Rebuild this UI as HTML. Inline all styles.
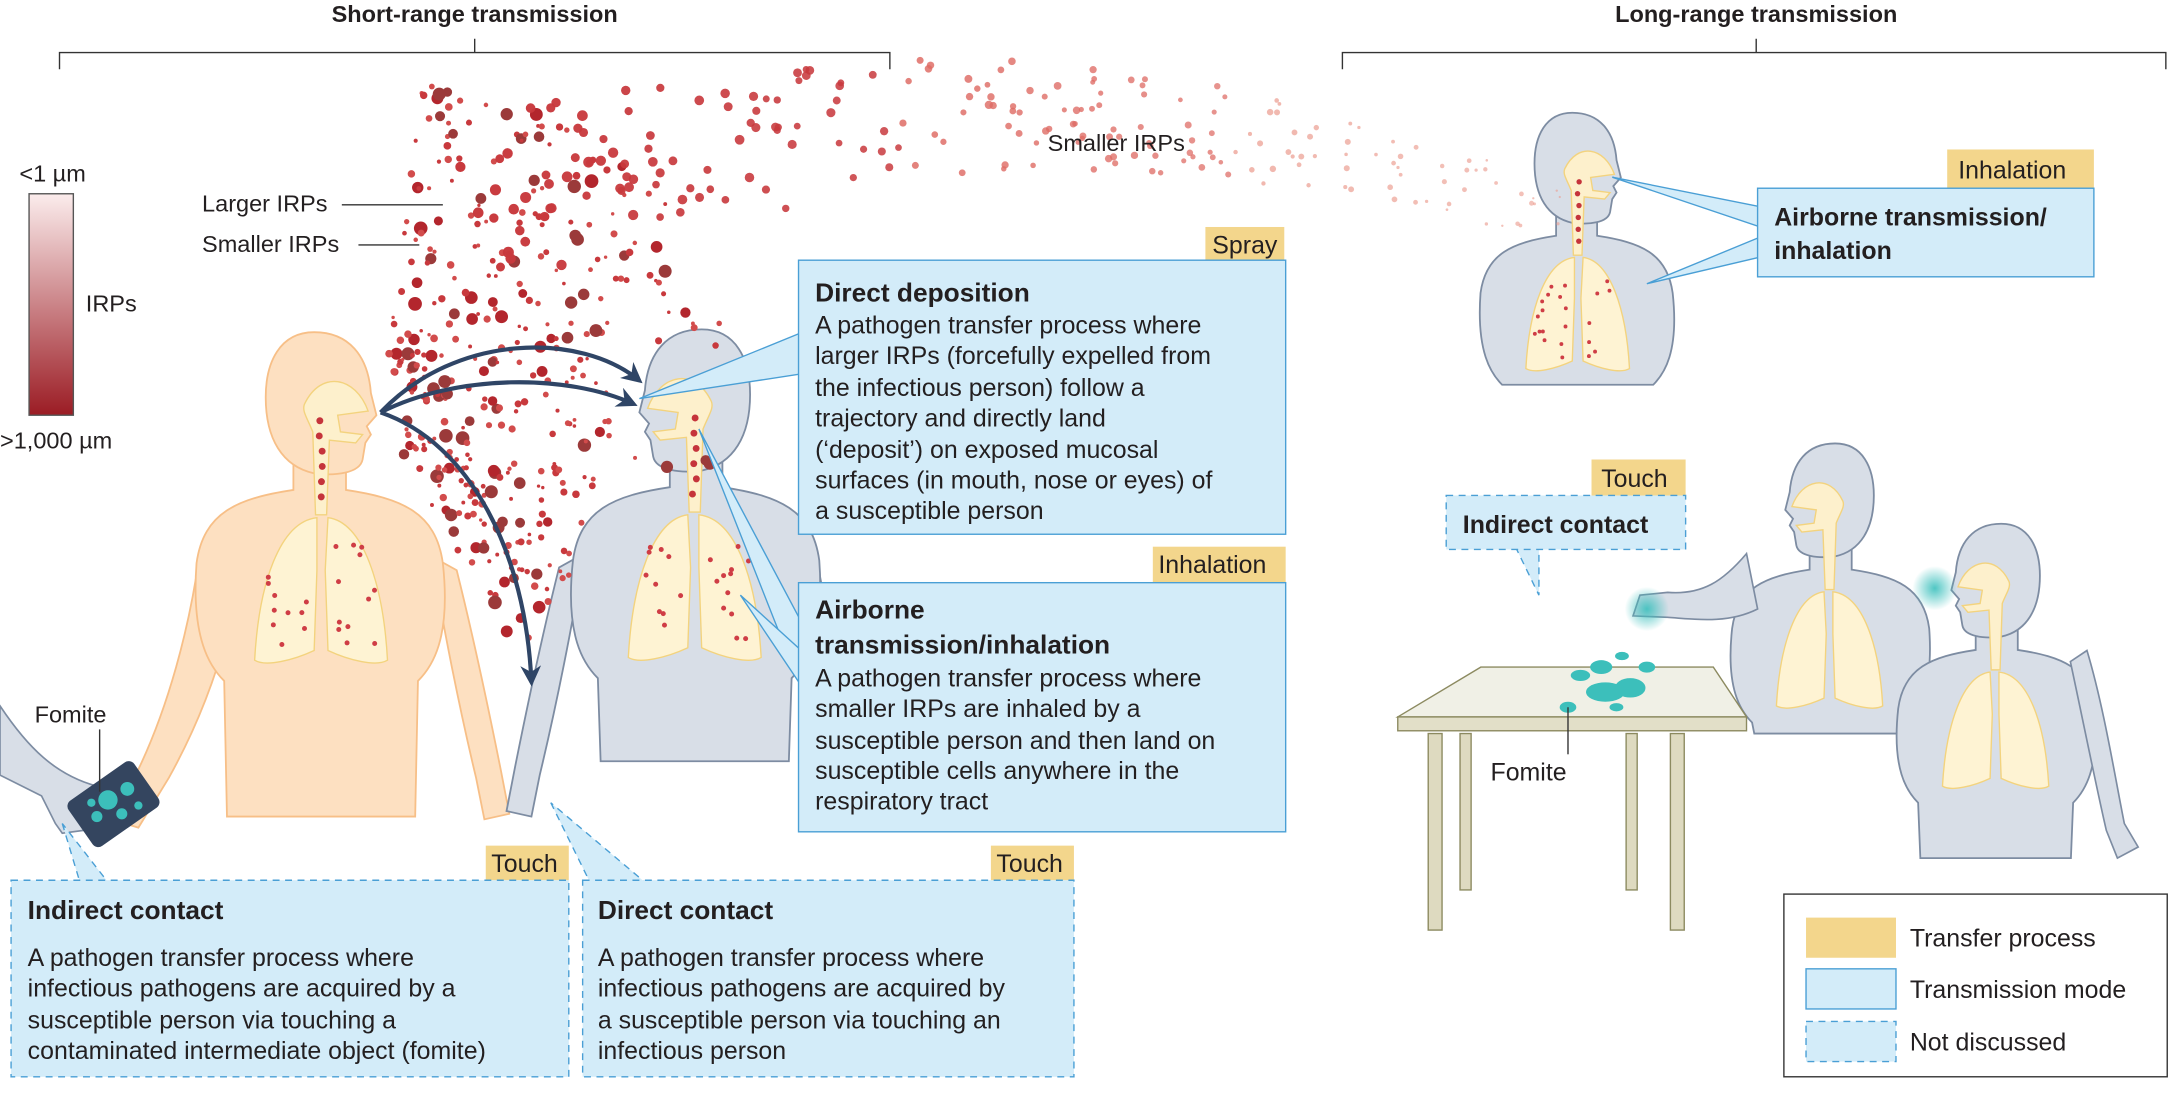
<!DOCTYPE html>
<html><head><meta charset="utf-8"><style>
html,body{margin:0;padding:0;background:#fff;}
svg{display:block;}
text{font-family:"Liberation Sans",sans-serif;fill:#231f20;}
.b{font-weight:bold;}
</style></head><body>
<svg id="s" width="2170" height="1110" viewBox="0 0 1568 802" preserveAspectRatio="none" xmlns="http://www.w3.org/2000/svg">
<defs>
<linearGradient id="cb" x1="0" y1="0" x2="0" y2="1"><stop offset="0" stop-color="#fbecec"/><stop offset="1" stop-color="#9b1c24"/></linearGradient>
<radialGradient id="tq"><stop offset="0" stop-color="#3cc0bd" stop-opacity="0.9"/><stop offset="1" stop-color="#3cc0bd" stop-opacity="0"/></radialGradient>
<marker id="ar" viewBox="0 0 10 10" refX="8" refY="5" markerWidth="5" markerHeight="5" orient="auto"><path d="M0,0 L10,5 L0,10 L3,5Z" fill="#2f4566"/></marker>
</defs>
<text x="343" y="16" font-size="17" class="b" text-anchor="middle">Short-range transmission</text>
<path d="M43,50 V38 H643 V50 M343,38 V28" stroke="#333" fill="none" stroke-width="1"/>
<text x="1269" y="16" font-size="17" class="b" text-anchor="middle">Long-range transmission</text>
<path d="M970,50 V38 H1565 V50 M1269,38 V28" stroke="#333" fill="none" stroke-width="1"/>
<text x="38" y="131" font-size="17" text-anchor="middle">&lt;1 µm</text>
<rect x="21" y="140" width="32" height="160" fill="url(#cb)" stroke="#555" stroke-width="1"/>
<text x="62" y="225" font-size="17">IRPs</text>
<text x="0" y="324" font-size="17">&gt;1,000  µm</text>
<g id="people"></g>
<g id="dots"></g>
<text x="146" y="153" font-size="17">Larger IRPs</text>
<line x1="247" y1="148" x2="320" y2="148" stroke="#333"/>
<text x="146" y="182" font-size="17">Smaller IRPs</text>
<line x1="259" y1="177" x2="303" y2="177" stroke="#333"/>
<text x="757" y="109" font-size="17">Smaller IRPs</text>
<g stroke="#2f4566" stroke-width="3" fill="none" marker-end="url(#ar)">
<path d="M275,298 C330,240 420,240 462,275"/>
<path d="M275,298 C330,270 410,270 458,292"/>
<path d="M275,298 C340,320 380,400 384,493"/>
</g>
<g fill="#d3ecf9" stroke="#4a9fd5" stroke-width="1">
<polygon points="462,288 580,240 580,270"/>
<polygon points="505,310 590,470 580,500"/>
<polygon points="535,430 590,480 582,500"/>
<polygon points="1165,128 1275,150 1275,165"/>
<polygon points="1190,205 1275,170 1275,185"/>
</g>
<g fill="#d3ecf9" stroke="#4a9fd5" stroke-width="1" stroke-dasharray="5,4">
<polygon points="45,595 60,645 80,640"/>
<polygon points="398,580 430,645 475,645"/>
<polygon points="1095,395 1112,430 1112,395"/>
</g>
<rect x="871" y="164" width="57" height="24" fill="#f3d68c"/><text x="876" y="183" font-size="18">Spray</text>
<rect x="577" y="188" width="352" height="198" fill="#d3ecf9" stroke="#4a9fd5"/>
<g font-size="18">
<text x="589" y="218" font-size="19" class="b">Direct deposition</text>
<text x="589" y="241">A pathogen transfer process where</text>
<text x="589" y="263">larger IRPs (forcefully expelled from</text>
<text x="589" y="286">the infectious person) follow a</text>
<text x="589" y="308">trajectory and directly land</text>
<text x="589" y="331">(‘deposit’) on exposed mucosal</text>
<text x="589" y="353">surfaces (in mouth, nose or eyes) of</text>
<text x="589" y="375">a susceptible person</text>
</g>
<rect x="833" y="395" width="96" height="26" fill="#f3d68c"/><text x="837" y="414" font-size="18">Inhalation</text>
<rect x="577" y="421" width="352" height="180" fill="#d3ecf9" stroke="#4a9fd5"/>
<g font-size="18">
<text x="589" y="447" font-size="19" class="b">Airborne</text>
<text x="589" y="472" font-size="19" class="b">transmission/inhalation</text>
<text x="589" y="496">A pathogen transfer process where</text>
<text x="589" y="518">smaller IRPs are inhaled by a</text>
<text x="589" y="541">susceptible person and then land on</text>
<text x="589" y="563">susceptible cells anywhere in the</text>
<text x="589" y="585">respiratory tract</text>
</g>
<rect x="351" y="611" width="60" height="25" fill="#f3d68c"/><text x="355" y="630" font-size="18">Touch</text>
<rect x="8" y="636" width="403" height="142" fill="#d3ecf9" stroke="#4a9fd5" stroke-dasharray="5,4"/>
<g font-size="18">
<text x="20" y="664" font-size="19" class="b">Indirect contact</text>
<text x="20" y="698">A pathogen transfer process where</text>
<text x="20" y="720">infectious pathogens are acquired by a</text>
<text x="20" y="743">susceptible person via touching a</text>
<text x="20" y="765">contaminated intermediate object (fomite)</text>
</g>
<rect x="716" y="611" width="60" height="25" fill="#f3d68c"/><text x="720" y="630" font-size="18">Touch</text>
<rect x="421" y="636" width="355" height="142" fill="#d3ecf9" stroke="#4a9fd5" stroke-dasharray="5,4"/>
<g font-size="18">
<text x="432" y="664" font-size="19" class="b">Direct contact</text>
<text x="432" y="698">A pathogen transfer process where</text>
<text x="432" y="720">infectious pathogens are acquired by</text>
<text x="432" y="743">a susceptible person via touching an</text>
<text x="432" y="765">infectious person</text>
</g>
<rect x="1407" y="108" width="106" height="28" fill="#f3d68c"/><text x="1415" y="129" font-size="18">Inhalation</text>
<rect x="1270" y="136" width="243" height="64" fill="#d3ecf9" stroke="#4a9fd5"/>
<text x="1282" y="163" font-size="18" class="b">Airborne transmission/</text>
<text x="1282" y="187" font-size="18" class="b">inhalation</text>
<rect x="1150" y="332" width="68" height="26" fill="#f3d68c"/><text x="1157" y="352" font-size="18">Touch</text>
<rect x="1045" y="358" width="173" height="39" fill="#d3ecf9" stroke="#4a9fd5" stroke-dasharray="5,4"/>
<text x="1057" y="385" font-size="18" class="b">Indirect contact</text>
<g stroke="#8c8a60" stroke-width="1">
<rect x="1032" y="530" width="10" height="142" fill="#dedac0"/>
<rect x="1055" y="530" width="8" height="113" fill="#dedac0"/>
<rect x="1175" y="530" width="8" height="113" fill="#dedac0"/>
<rect x="1207" y="530" width="10" height="142" fill="#dedac0"/>
<polygon points="1010,518 1070,482 1238,482 1262,518" fill="#f0f0e6"/>
<rect x="1010" y="518" width="252" height="10" fill="#e2dfc8"/>
</g>
<g fill="#3cbfbb"><ellipse cx="1160" cy="500" rx="14" ry="7"/><ellipse cx="1178" cy="497" rx="11" ry="7"/><ellipse cx="1142" cy="488" rx="7" ry="4"/><ellipse cx="1157" cy="482" rx="8" ry="5"/><ellipse cx="1190" cy="482" rx="6" ry="4"/><ellipse cx="1133" cy="511" rx="6" ry="4"/><ellipse cx="1168" cy="511" rx="5" ry="3"/><ellipse cx="1172" cy="474" rx="5" ry="3"/></g>
<line x1="1133" y1="511" x2="1133" y2="545" stroke="#333"/>
<text x="1077" y="564" font-size="18">Fomite</text>
<rect x="1289" y="646" width="277" height="132" fill="#fff" stroke="#333"/>
<rect x="1305" y="663" width="65" height="29" fill="#f3d68c"/><text x="1380" y="684" font-size="18">Transfer process</text>
<rect x="1305" y="700" width="65" height="29" fill="#d3ecf9" stroke="#4a9fd5"/><text x="1380" y="721" font-size="18">Transmission mode</text>
<rect x="1305" y="738" width="65" height="29" fill="#d3ecf9" stroke="#4a9fd5" stroke-dasharray="5,4"/><text x="1380" y="759" font-size="18">Not discussed</text>
<text x="25" y="522" font-size="17">Fomite</text>
</svg>
<script>
var NS="http://www.w3.org/2000/svg";
function el(t,a,p){var e=document.createElementNS(NS,t);for(var k in a)e.setAttribute(k,a[k]);p.appendChild(e);return e;}
var seed=7;function r(){seed=(seed*16807)%2147483647;return seed/2147483647;}
var D=document.getElementById('dots');
for(var i=0;i<420;i++){
 var ang=-1.45+r()*2.35, rad=30+Math.pow(r(),0.8)*260;
 var x=275+Math.cos(ang)*rad*0.9, y=298+Math.sin(ang)*rad*0.85;
 if(ang>0.2){x=275+Math.cos(ang)*rad*0.55;y=298+Math.sin(ang)*rad*0.8;}
 if(x<265||y<55||x>575)continue;
 if(x>445&&y>250&&y<330)continue;
 var big=r();var rr=big<0.25?3.2+r()*1.8:1.2+r()*1.6;
 var c=big<0.25?(r()<0.5?'#b3262d':'#9b3a3a'):(r()<0.5?'#c8393d':'#d24c4c');
 el('circle',{cx:x,cy:y,r:rr,fill:c},D);
}
for(var i=0;i<230;i++){
 var t=r();var x=330+t*800;var yc=150-Math.sin(t*Math.PI*0.9)*80+t*30;
 var y=yc+(r()-0.5)*(130-t*90);
 var rr=(1-t)*2.5+0.7+r()*1;
 var col=t<0.4?'#c8393d':(t<0.7?'#de6a63':'#eb9b8e');
 el('circle',{cx:x,cy:y,r:rr,fill:col,opacity:1-t*0.4},D);
}
var P=document.getElementById('people');
function person(x,y,s,flip,fill,stroke,bottom,light,arms){
 var g=el('g',{transform:'translate('+x+','+y+') scale('+(flip?-s:s)+','+s+')'},P);
 var b=bottom,w=1.3/s;
 if(arms){
 el('path',{d:'M-88,110 C-95,160 -110,220 -135,270 L-152,300 L-132,306 L-110,270 C-85,225 -70,180 -62,140 Z',fill:fill,stroke:stroke,'stroke-width':w},g);
 el('path',{d:'M80,110 C88,160 100,220 112,270 L118,300 L136,296 L130,265 C120,215 108,160 98,120 Z',fill:fill,stroke:stroke,'stroke-width':w},g);
 }
 el('path',{d:'M-20,44 L-20,62 C-60,68 -85,78 -90,115 C-94,170 -80,190 -70,200 L-68,'+b+' L68,'+b+' L70,200 C80,190 94,170 88,115 C83,78 58,68 18,62 L18,44 Z',fill:fill,stroke:stroke,'stroke-width':w},g);
 el('path',{d:'M-5,-52 C-30,-52 -40,-30 -40,-5 C-40,25 -28,45 -5,50 C10,52 28,50 30,40 L32,28 L36,22 L33,16 L40,8 L36,-8 C34,-35 20,-52 -5,-52 Z',fill:fill,stroke:stroke,'stroke-width':w},g);
 el('path',{d:'M-12,0 C0,-25 25,-20 34,5 L12,8 L14,20 L30,22 L25,28 L6,26 L4,80 L-4,80 L-6,20 C-10,10 -14,5 -12,0Z',fill:'#fdf0cc',stroke:'#f3d37e','stroke-width':1/s},g);
 el('path',{d:'M-3,82 C-30,85 -45,130 -48,185 C-40,190 -20,185 -5,178 L-3,120 Z',fill:'#fef3d3',stroke:'#f3d37e','stroke-width':1/s},g);
 el('path',{d:'M5,82 C30,85 45,130 48,185 C40,190 20,185 5,178 L3,120 Z',fill:'#fef3d3',stroke:'#f3d37e','stroke-width':1/s},g);
 if(!light){for(var i=0;i<22;i++){var dx=(r()<0.5?-1:1)*(10+r()*30),dy=100+r()*75;el('circle',{cx:dx,cy:dy,r:1.8,fill:'#cf3d45'},g);}
  for(var i=0;i<6;i++)el('circle',{cx:(r()-0.5)*4,cy:12+i*11,r:2.5,fill:'#c5343b'},g);}
}
person(232,292,1,false,'#fde0c1','#f7bf87',298,false,true);
person(502,290,1,true,'#d8dee7','#7d8ca2',260,false,true);
person(1140,122,0.78,false,'#d8dee7','#7d8ca2',200,false,false);
person(1322,362,0.8,true,'#d8dee7','#7d8ca2',210,true,false);
person(1442,420,0.8,true,'#d8dee7','#7d8ca2',250,true,false);
// right-bottom arms
el('path',{d:'M1262,400 C1245,420 1230,430 1205,428 L1185,430 L1180,445 L1205,446 C1230,448 1250,450 1270,440 Z',fill:'#d8dee7',stroke:'#7d8ca2','stroke-width':1.2},P);
el('path',{d:'M1496,478 C1505,520 1515,570 1522,600 L1530,620 L1545,612 L1535,595 C1528,560 1520,510 1508,470 Z',fill:'#d8dee7',stroke:'#7d8ca2','stroke-width':1.2},P);
el('circle',{cx:1190,cy:440,r:16,fill:'url(#tq)'},P);
el('circle',{cx:1398,cy:425,r:16,fill:'url(#tq)'},P);
el('path',{d:'M0,510 C20,540 40,560 70,568 L90,560 L95,570 L80,582 L60,600 L45,602 L40,595 L30,575 L0,560Z',fill:'#d8dee7',stroke:'#7d8ca2','stroke-width':1.2},P);
el('rect',{x:62,y:552,width:40,height:58,rx:5,fill:'#34455f',transform:'rotate(55 82 581)'},P);
[[78,578,7],[92,570,5],[70,590,4],[88,588,4],[100,582,3],[66,580,3]].forEach(function(c){el('circle',{cx:c[0],cy:c[1],r:c[2],fill:'#3cbfbb'},P);});
el('line',{x1:72,y1:527,x2:72,y2:572,stroke:'#333'},P);
</script>
</body></html>
